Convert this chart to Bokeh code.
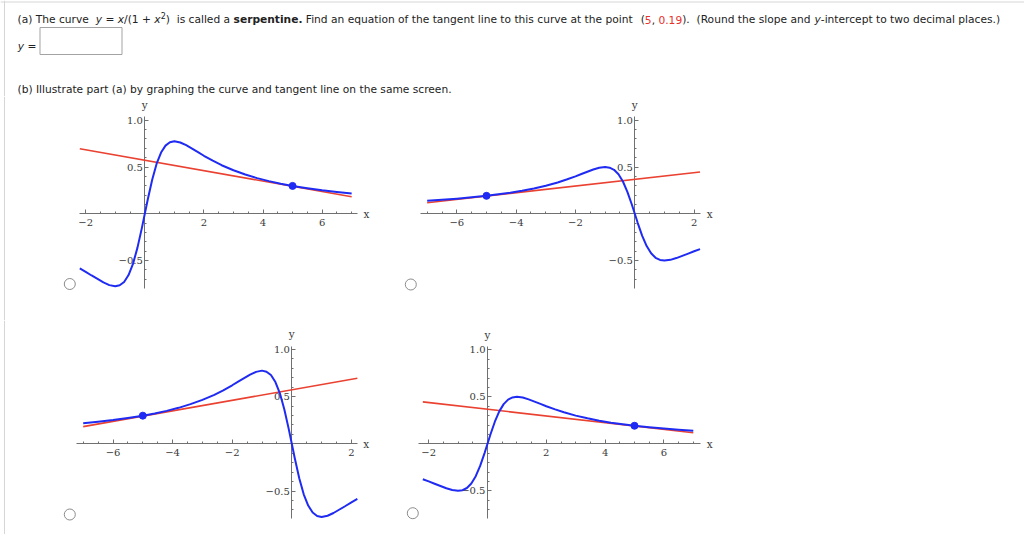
from bokeh.plotting import figure
from bokeh.models import Range1d, LinearAxis, FixedTicker, Span
from bokeh.layouts import column, row
from bokeh.embed import file_html
from bokeh.resources import INLINE
from bokeh.core.properties import value

# ---------------- data ----------------
curve_x = [-2.2, -2.0, -1.8, -1.6, -1.4, -1.2, -1.0, -0.85, -0.7, -0.55, -0.4, -0.25, -0.1,
           0.0, 0.1, 0.25, 0.4, 0.55, 0.7, 0.85, 1.0, 1.2, 1.4, 1.6, 1.8, 2.0, 2.3, 2.6,
           3.0, 3.4, 3.8, 4.2, 4.6, 5.0, 5.5, 6.0, 6.5, 7.0]
# serpentine as drawn in the bottom-right option
serp_y = [-0.377, -0.400, -0.425, -0.449, -0.473, -0.492, -0.500, -0.493, -0.470, -0.422, -0.345,
          -0.235, -0.099, 0.0, 0.099, 0.235, 0.345, 0.422, 0.470, 0.493, 0.500, 0.492, 0.473,
          0.449, 0.425, 0.400, 0.366, 0.335, 0.300, 0.271, 0.246, 0.225, 0.208, 0.192, 0.176,
          0.162, 0.150, 0.140]
# taller curve as drawn in the top-left option
wide_y = [-0.584, -0.620, -0.659, -0.696, -0.733, -0.762, -0.775, -0.764, -0.728, -0.654, -0.535,
          -0.364, -0.153, 0.0, 0.153, 0.364, 0.535, 0.654, 0.728, 0.764, 0.775, 0.762, 0.733,
          0.696, 0.659, 0.620, 0.567, 0.519, 0.465, 0.420, 0.381, 0.349, 0.322, 0.298, 0.273,
          0.251, 0.233, 0.217]
mirror_x = [-v for v in curve_x]

tangent_a_x = [-2.2, 7.0];  tangent_a_y = [0.695, 0.182]
tangent_b_x = [-7.0, 2.2];  tangent_b_y = [0.118, 0.446]
tangent_c_x = [-7.0, 2.2];  tangent_c_y = [0.182, 0.695]
tangent_d_x = [-2.2, 7.0];  tangent_d_y = [0.446, 0.118]

point_a = (5, 0.298)
point_b = (-5, 0.192)
point_c = (-5, 0.298)
point_d = (5, 0.192)

xticks_pos = [-2, 2, 4, 6]
xticks_neg = [-6, -4, -2, 2]
yticks = [-0.5, 0.5, 1.0]
ytick_labels = {-0.5: "\u22120.5", 0.5: "0.5", 1.0: "1.0"}

# ---------------- styles ----------------
BLUE = "#1f2bf2"
RED = "#ea4131"
AX = "#707070"
LBL = "#3a3a3a"
TXT = "#222222"
PT_RED = "#e8302a"
BORDER = "#d6d6d6"
SERIF = "DejaVu Serif"
SANS = "DejaVu Sans"
F = 10.67

W_REG = {' ': .318, '(': .390, ')': .390, '+': .838, ',': .318, '-': .361, '.': .318, '/': .337,
         '=': .838, 'F': .575, 'I': .295, 'R': .695, 'T': .611, 'a': .613, 'b': .635, 'c': .550,
         'd': .635, 'e': .615, 'f': .352, 'g': .635, 'h': .634, 'i': .278, 'k': .579, 'l': .278,
         'm': .974, 'n': .634, 'o': .612, 'p': .635, 'q': .635, 'r': .411, 's': .521, 't': .392,
         'u': .634, 'v': .592, 'w': .818, 'x': .592, 'y': .592, 'z': .525}
W_BOLD = {'s': .581, 'e': .678, 'r': .493, 'p': .716, 'n': .712, 't': .478, 'i': .343, '.': .381}


def text_w(s, bold=False, size=F):
    tot = 0.0
    for c in s:
        if c.isdigit():
            tot += .636
        elif bold and c in W_BOLD:
            tot += W_BOLD[c]
        else:
            tot += W_REG.get(c, .6)
    return tot * size


def put(p, x, y, s, style="normal", color=TXT, size=F, font=SANS, align="left"):
    p.text(x=[x], y=[y], text=[s], text_font=value(font), text_font_size=f"{size:.2f}px",
           text_font_style=style, text_color=color, text_baseline="alphabetic", text_align=align)


def put_runs(p, x, y, runs):
    cur = x
    for s, style, color, scale, dy in runs:
        size = F * scale
        bold = style == "bold"
        lead = len(s) - len(s.lstrip(" "))
        body = s.strip(" ")
        if body:
            put(p, cur + text_w(" " * lead, size=size), y + dy, body, style, color, size)
        cur += text_w(s, bold, size)


# ---------------- header (page pixel coordinates) ----------------
hdr = figure(width=1024, height=96, x_range=Range1d(0, 1024), y_range=Range1d(96, 0),
             x_axis_type=None, y_axis_type=None, toolbar_location=None, output_backend="svg",
             min_border=0, outline_line_color=None, title=None)
hdr.grid.visible = False
hdr.add_layout(Span(location=1.5, dimension="width", line_color=BORDER, line_width=1))
hdr.add_layout(Span(location=4, dimension="height", line_color=BORDER, line_width=1))

line1 = [
    ("(a) The curve  ", "normal", TXT, 1, 0),
    ("y", "italic", TXT, 1, 0),
    (" = ", "normal", TXT, 1, 0),
    ("x", "italic", TXT, 1, 0),
    ("/(1 + ", "normal", TXT, 1, 0),
    ("x", "italic", TXT, 1, 0),
    ("2", "normal", TXT, 0.75, -4.5),
    (")", "normal", TXT, 1, 0),
    ("  is called a ", "normal", TXT, 1, 0),
    ("serpentine.", "bold", TXT, 1, 0),
    (" Find an equation of the tangent line to this curve at the point  ", "normal", TXT, 1, 0),
    ("(", "normal", TXT, 1, 0),
    ("5", "normal", PT_RED, 1, 0),
    (", ", "normal", TXT, 1, 0),
    ("0.19", "normal", PT_RED, 1, 0),
    (").", "normal", TXT, 1, 0),
    ("  (Round the slope and ", "normal", TXT, 1, 0),
    ("y", "italic", TXT, 1, 0),
    ("-intercept to two decimal places.)", "normal", TXT, 1, 0),
]
put_runs(hdr, 17, 19.3, line1)
put_runs(hdr, 17.3, 45.7, [("y", "italic", TXT, 1, 0), (" =", "normal", TXT, 1, 0)])
hdr.quad(left=[39.5], right=[121.5], top=[27], bottom=[54], fill_color="white",
         line_color="#a3a3a3", line_width=1)
put(hdr, 17, 89.3, "(b) Illustrate part (a) by graphing the curve and tangent line on the same screen.")


# ---------------- option panels ----------------
def panel(box, origin, scale, xb, yb, majors, cx, cy, tx, ty, pt, radio, left_border=False):
    left, top, w, h = box
    ox, oy = origin
    sx, sy = scale
    p = figure(width=w, height=h,
               x_range=Range1d((left - ox) / sx, (left + w - ox) / sx),
               y_range=Range1d((oy - (top + h)) / sy, (oy - top) / sy),
               x_axis_type=None, y_axis_type=None, toolbar_location=None,
               output_backend="svg", min_border=0, outline_line_color=None, title=None)
    if left_border:
        p.add_layout(Span(location=(4 - ox) / sx, dimension="height", line_color=BORDER, line_width=1))
    lo = int(round(xb[0] * 2 + 0.49))
    hi = int(round(xb[1] * 2 - 0.49))
    xminor = [k * 0.5 for k in range(lo, hi + 1) if k != 0]
    yminor = [k / 10 for k in range(-7, 11) if k != 0]
    common = dict(fixed_location=0, axis_line_color=AX, axis_line_width=1,
                  major_tick_line_color=AX, minor_tick_line_color=AX,
                  major_tick_out=0, minor_tick_out=0,
                  major_label_text_font=SERIF, major_label_text_font_size="10px",
                  major_label_text_color=LBL)
    xax = LinearAxis(bounds=xb, ticker=FixedTicker(ticks=majors, minor_ticks=xminor),
                     major_label_overrides={float(m): (("\u2212" + str(-m)) if m < 0 else str(m)) for m in majors},
                     major_tick_in=4, minor_tick_in=2, major_label_standoff=5, **common)
    yax = LinearAxis(bounds=yb, ticker=FixedTicker(ticks=yticks, minor_ticks=yminor),
                     major_label_overrides=ytick_labels,
                     major_tick_in=4, minor_tick_in=2, major_label_standoff=2, **common)
    p.add_layout(xax, "below")
    p.add_layout(yax, "left")

    p.line(tx, ty, line_color=RED, line_width=1.6, level="overlay")
    p.line(cx, cy, line_color=BLUE, line_width=2, line_join="round", level="overlay")
    p.scatter([pt[0]], [pt[1]], size=7, fill_color=BLUE, line_color=BLUE, level="overlay")

    p.text(x=[xb[1]], y=[0], text=["x"], x_offset=6, text_font=value(SERIF), text_font_size="10.5px",
           text_color=LBL, text_baseline="middle", text_align="left")
    p.text(x=[0], y=[yb[1]], text=["y"], y_offset=-6, text_font=value(SERIF), text_font_size="10.5px",
           text_color=LBL, text_baseline="bottom", text_align="center")

    rx = (radio[0] - ox) / sx
    ry = (oy - radio[1]) / sy
    p.scatter([rx], [ry], size=11, fill_color="white", line_color="#8c8c8c", line_width=1)
    return p


pa = panel((0, 96, 396, 224), (144.3, 213.3), (29.55, 93.6), (-2.22, 7.2), (-0.80, 1.035),
           xticks_pos, curve_x, wide_y, tangent_a_x, tangent_a_y, point_a, (69.3, 283.5), True)
pb = panel((396, 96, 628, 224), (634.3, 213.3), (29.66, 93.6), (-7.22, 2.22), (-0.80, 1.035),
           xticks_neg, mirror_x, serp_y, tangent_b_x, tangent_b_y, point_b, (410.3, 284))
pc = panel((0, 320, 396, 214), (291.3, 443.3), (29.8, 94.4), (-7.22, 2.2), (-0.79, 1.035),
           xticks_neg, mirror_x, wide_y, tangent_c_x, tangent_c_y, point_c, (69.3, 514), True)
pd = panel((396, 320, 628, 214), (487.0, 443.3), (29.4, 94.0), (-2.35, 7.25), (-0.79, 1.035),
           xticks_pos, curve_x, serp_y, tangent_d_x, tangent_d_y, point_d, (412.3, 512.7))

layout = column(hdr, row(pa, pb), row(pc, pd))
open("out.html", "w").write(file_html(layout, INLINE))
